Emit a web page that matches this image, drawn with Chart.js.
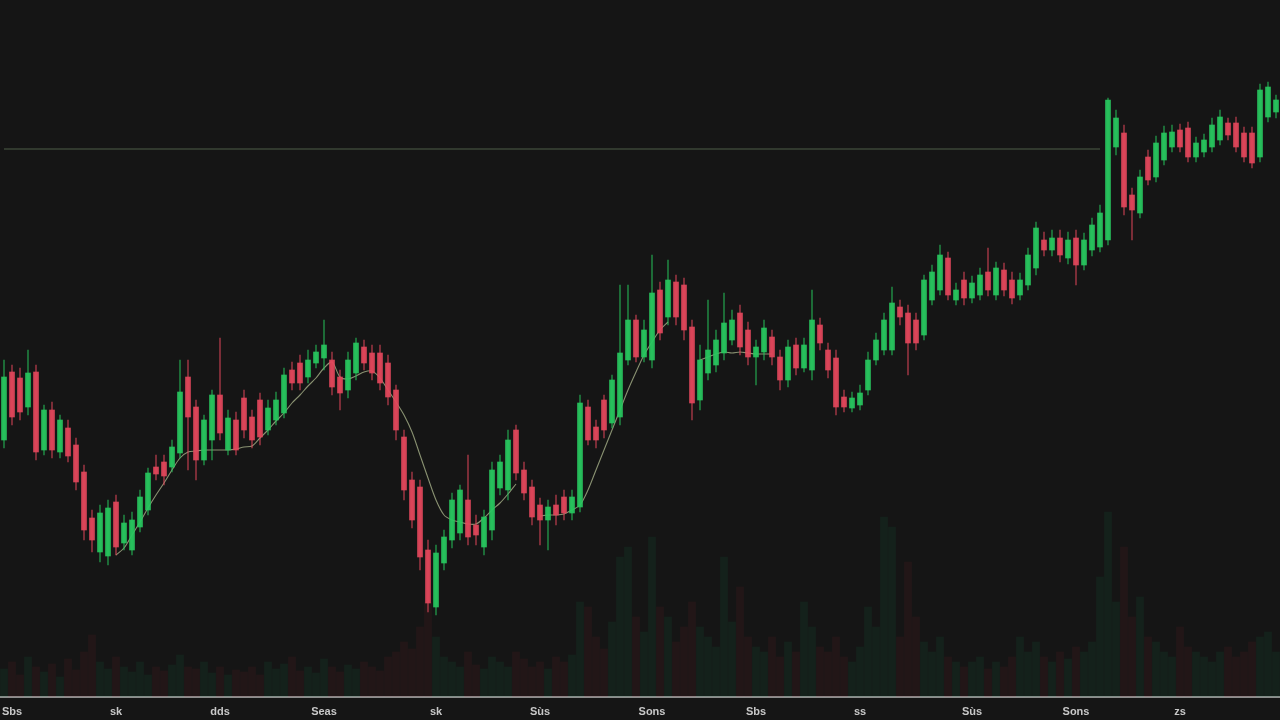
<!DOCTYPE html>
<html>
<head>
<meta charset="utf-8">
<script src="https://cdn.jsdelivr.net/npm/chart.js@4.4.1/dist/chart.umd.min.js"></script>
<style>
  html, body { margin: 0; padding: 0; background: #151515; }
  #wrap { width: 1280px; height: 720px; position: relative; }
</style>
</head>
<body>
<div id="wrap"><canvas id="candles"></canvas></div>
<script>
// candle prices, one entry per bar
const openPrices = [
  156.0,162.8,162.2,159.3,162.8,155.0,159.0,154.8,157.2,155.5,
  152.8,148.2,144.8,144.4,149.8,145.7,145.0,147.3,149.0,153.3,
  153.8,153.3,154.7,162.3,159.3,154.0,156.0,160.5,155.0,158.0,
  160.2,158.3,160.0,157.0,158.0,158.7,163.0,163.7,162.3,163.7,
  164.2,164.0,162.3,161.0,162.7,165.3,164.7,164.7,163.7,161.0,
  156.3,152.0,151.3,145.0,139.3,143.7,146.0,146.7,150.0,147.5,
  145.3,147.0,151.2,151.0,157.0,153.0,151.3,149.5,148.0,149.5,
  150.3,148.7,149.3,159.3,157.3,160.0,157.7,158.3,164.0,168.0,
  164.3,164.0,171.0,168.3,171.8,171.5,167.3,160.0,162.7,163.5,
  164.7,166.0,168.7,167.0,164.3,164.8,166.3,164.3,162.0,165.5,
  163.2,163.0,167.5,165.0,164.2,160.3,159.2,159.5,161.0,164.0,
  165.0,165.0,169.3,168.7,168.0,166.5,170.0,171.0,174.2,170.0,
  172.0,170.2,170.5,172.8,170.5,173.0,172.0,170.5,171.5,173.2,
  176.0,175.0,176.2,174.2,176.2,173.5,175.0,175.3,176.0,185.3,
  186.7,180.5,178.7,184.3,182.3,184.0,185.3,187.0,187.2,184.3,
  184.8,185.3,186.0,187.7,187.7,186.7,186.7,184.3,188.3,188.8
];
const closePrices = [
  162.3,158.3,158.8,162.7,154.8,159.0,155.0,158.0,154.4,151.8,
  147.0,146.0,148.7,149.2,145.3,147.7,148.0,150.3,152.7,152.6,
  152.4,155.3,160.8,158.3,154.0,158.0,160.5,156.7,158.2,155.0,
  157.0,156.0,156.3,159.2,160.0,162.5,161.7,161.7,164.0,164.8,
  165.5,161.3,160.7,164.0,165.7,163.7,162.7,161.7,160.3,157.0,
  151.0,148.0,144.3,139.7,144.7,146.3,150.0,151.0,146.3,146.5,
  148.3,153.0,153.8,156.0,152.7,150.7,148.3,148.0,149.3,148.5,
  148.7,150.3,159.7,156.0,156.0,157.0,162.0,164.7,168.0,164.3,
  167.0,170.7,166.7,172.0,168.3,167.0,159.7,164.0,165.0,166.0,
  167.7,168.0,165.3,164.3,165.3,167.2,164.3,162.0,165.3,163.2,
  165.5,168.0,165.7,163.0,159.3,159.3,160.2,160.7,164.0,166.0,
  168.0,169.7,168.3,165.7,165.7,172.0,172.8,174.5,170.5,171.0,
  170.2,171.7,172.5,171.0,173.2,171.0,170.2,172.0,174.5,177.2,
  175.0,176.2,174.5,176.0,173.5,176.0,177.5,178.7,190.0,188.2,
  179.3,179.0,182.3,182.0,185.7,186.7,186.8,185.3,184.3,185.7,
  186.0,187.5,188.3,186.5,185.3,184.3,183.7,191.0,191.3,190.0
];
const highPrices = [
  164.0,163.5,163.2,165.0,163.5,159.5,159.8,158.5,158.0,156.2,
  153.5,149.0,149.5,150.0,150.5,148.5,148.8,151.0,153.2,154.5,
  154.5,156.0,164.0,164.0,160.0,158.5,161.0,166.2,159.0,158.8,
  161.0,159.0,160.7,160.0,160.8,163.2,163.8,164.5,165.0,165.5,
  168.0,164.8,163.0,164.8,166.2,166.0,165.5,165.5,164.5,161.5,
  157.0,152.8,152.0,146.0,145.5,147.0,150.7,151.5,154.5,148.5,
  149.0,153.8,154.5,157.0,157.5,153.8,152.0,150.2,150.0,150.5,
  151.0,151.0,160.5,160.0,158.0,160.5,162.5,171.5,171.5,168.5,
  168.0,174.5,171.8,174.0,172.5,172.2,168.0,165.5,170.0,167.0,
  170.7,169.0,169.5,167.8,166.0,168.0,167.0,165.0,166.0,166.2,
  166.2,171.0,168.2,165.7,165.0,161.0,160.8,161.5,164.8,166.7,
  168.7,171.3,170.0,169.5,168.7,172.5,173.5,175.5,174.8,171.7,
  172.8,172.4,173.2,175.2,173.8,173.7,172.8,172.7,175.2,177.8,
  176.8,177.0,177.0,176.8,177.0,176.7,178.2,179.5,190.2,189.0,
  187.5,181.2,183.0,185.0,186.4,187.4,187.5,187.6,187.8,186.3,
  186.6,188.2,189.0,188.2,188.3,187.3,187.3,191.6,191.8,190.5
];
const lowPrices = [
  155.2,157.5,158.0,158.5,154.0,154.5,154.2,154.2,153.8,151.0,
  146.0,144.8,143.8,143.5,144.5,145.0,144.5,146.8,148.5,152.0,
  151.5,152.8,154.2,153.0,152.0,153.5,154.0,156.0,154.5,154.5,
  156.2,155.2,155.5,156.5,157.5,158.2,161.0,161.0,161.7,163.2,
  163.0,160.5,159.0,160.2,162.0,163.0,162.0,161.0,159.5,156.0,
  150.0,147.2,143.0,138.8,138.5,143.0,145.2,146.0,145.5,145.5,
  144.5,146.0,150.5,150.0,152.0,150.0,147.5,145.5,145.0,147.5,
  148.0,148.0,148.8,155.5,155.2,156.2,157.2,157.5,163.5,163.8,
  163.8,163.2,166.0,167.5,167.5,166.0,158.0,159.0,162.0,162.8,
  164.0,165.5,164.5,163.5,161.5,164.0,163.5,161.0,161.3,162.5,
  162.8,162.0,165.0,162.2,158.5,158.8,158.8,159.0,160.5,163.5,
  164.5,164.5,167.5,162.5,165.0,166.0,169.5,170.5,170.0,169.5,
  169.5,169.7,170.0,170.4,170.0,170.4,169.6,170.0,171.0,172.5,
  174.4,174.4,173.8,173.6,171.5,173.0,174.4,174.8,175.5,184.5,
  178.5,176.0,178.2,181.5,181.8,183.5,184.8,184.8,183.8,183.8,
  184.3,184.8,185.5,186.0,184.8,183.8,183.2,183.8,187.8,188.2
];
// volume in thousands
const volumes = [
  28,35,22,40,30,25,33,20,38,27,
  45,62,35,28,40,30,25,35,22,30,
  26,32,42,30,28,35,24,30,22,27,
  25,30,22,35,28,33,40,26,30,24,
  38,30,25,32,28,35,30,26,40,45,
  55,48,70,95,60,40,35,30,45,32,
  28,40,35,30,45,38,30,35,28,40,
  35,42,95,90,60,48,75,140,150,80,
  65,160,90,80,55,70,95,70,60,50,
  140,75,110,60,50,45,60,40,55,45,
  95,70,50,45,60,40,35,50,90,70,
  180,170,60,135,80,55,45,60,40,35,
  30,35,40,28,35,30,40,60,45,55,
  40,35,45,38,50,45,55,120,185,95,
  150,80,100,60,55,45,40,70,50,45,
  40,35,45,50,40,45,55,60,65,45
];
// moving average, only where it shows on the chart
const avgLine = [
  null,null,null,null,null,null,null,null,null,null,
  null,null,null,null,144.5,145.2,146.5,147.8,149.2,150.5,
  151.7,153.0,154.2,154.8,154.9,155.0,155.0,155.0,155.0,155.1,
  155.3,155.4,156.2,157.0,157.9,158.7,159.7,160.5,161.4,162.2,
  163.2,163.8,162.3,162.1,162.4,162.8,162.9,162.2,161.0,159.8,
  158.5,156.8,154.5,152.2,150.0,148.5,148.0,147.8,147.6,147.6,
  148.2,149.0,149.7,150.6,151.6,null,null,148.4,148.5,148.5,
  148.6,149.0,149.5,151.0,153.0,155.0,157.0,159.0,161.0,162.8,
  164.5,165.8,167.0,167.8,null,null,null,164.0,164.3,164.6,
  164.8,164.7,164.8,164.7,164.6,164.6,164.6,null,null,null,
  null,null,null,null,null,null,null,null,null,null,
  null,null,null,null,null,null,null,null,null,null,
  null,null,null,null,null,null,null,null,null,null,
  null,null,null,null,null,null,null,null,null,null,
  null,null,null,null,null,null,null,null,null,null,
  null,null,null,null,null,null,null,null,null,null
];
const levelPrice = 185.1;
const levelFrom = 0;
const levelTo = 137;

const tickIndex = [1, 14, 27, 40, 54, 67, 81, 94, 107, 121, 134, 147];
const tickLabels = ["Sbs", "sk", "dds", "Seas", "sk", "Sùs", "Sons", "Sbs", "ss", "Sùs", "Sons", "zs"];

const categories = openPrices.map(function (v, i) { return String(i); });

const green = "rgba(40,200,95,0.92)";
const red = "rgba(228,72,92,0.92)";

let bodies = [];
let wicks = [];
let bodyColors = [];
let wickColors = [];
let volColors = [];
for (let i = 0; i < openPrices.length; i++) {
  bodies.push([openPrices[i], closePrices[i]]);
  wicks.push([lowPrices[i], highPrices[i]]);
  let up = closePrices[i] >= openPrices[i];
  bodyColors.push(up ? green : red);
  wickColors.push(up ? "rgba(39,196,92,0.6)" : "rgba(226,72,92,0.6)");
  volColors.push(up ? "rgba(20,140,80,0.11)" : "rgba(150,40,50,0.11)");
}

let levelData = categories.map(function (c, i) {
  return (i === levelFrom || i === levelTo) ? levelPrice : null;
});

Chart.defaults.font.family = "'Liberation Sans', 'DejaVu Sans', sans-serif";

new Chart(document.getElementById("candles"), {
  type: "bar",
  data: {
    labels: categories,
    datasets: [
      {
        label: "Level",
        type: "line",
        data: levelData,
        borderColor: "rgba(95,118,90,0.5)",
        borderWidth: 1.3,
        pointRadius: 0,
        spanGaps: true,
        yAxisID: "y",
        order: 0,
      },
      {
        label: "Average",
        type: "line",
        data: avgLine,
        borderColor: "rgba(215,228,175,0.6)",
        borderWidth: 1.1,
        pointRadius: 0,
        spanGaps: false,
        tension: 0.3,
        yAxisID: "y",
        order: 3,
      },
      {
        label: "Body",
        data: bodies,
        backgroundColor: bodyColors,
        barThickness: 5,
        grouped: false,
        yAxisID: "y",
        order: 1,
      },
      {
        label: "Wick",
        data: wicks,
        backgroundColor: wickColors,
        barThickness: 1,
        grouped: false,
        yAxisID: "y",
        order: 2,
      },
      {
        label: "Volume",
        data: volumes,
        backgroundColor: volColors,
        barThickness: 7,
        grouped: false,
        yAxisID: "vol",
        order: 4,
      },
    ],
  },
  options: {
    responsive: true,
    maintainAspectRatio: false,
    animation: false,
    layout: { padding: 0 },
    plugins: {
      legend: { display: false },
      tooltip: { enabled: false },
    },
    scales: {
      x: {
        offset: true,
        grid: { display: false, drawTicks: false },
        border: { display: true, color: "#8e8e8e", width: 2 },
        afterFit: function (scale) {
          scale.height = 23;
          scale.paddingLeft = 0;
          scale.paddingRight = 0;
        },
        ticks: {
          autoSkip: false,
          maxRotation: 0,
          padding: 8,
          color: "#c8c8c8",
          font: { size: 11, weight: "bold" },
          callback: function (value, index) {
            let k = tickIndex.indexOf(index);
            return k >= 0 ? tickLabels[k] : "";
          },
        },
      },
      y: {
        display: false,
        min: 130.3,
        max: 200,
      },
      vol: {
        display: false,
        min: 0,
        max: 697,
      },
    },
  },
});
</script>
</body>
</html>
